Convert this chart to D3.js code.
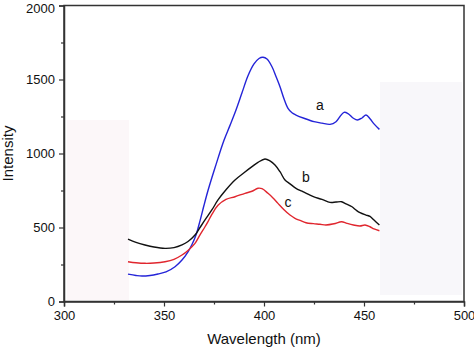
<!DOCTYPE html>
<html><head><meta charset="utf-8">
<script src="https://cdn.jsdelivr.net/npm/d3@7"></script>
<style>body{margin:0;background:#fff}svg{display:block}</style>
</head><body>
<script>
const xTicks = [300, 350, 400, 450, 500];
const yTicks = [0, 500, 1000, 1500, 2000];
const seriesNames = ["a", "b", "c"];
const seriesColors = ["#2424d8", "#111111", "#e0262e"];
const waveA = [332,336,339,343,347,351,355.5,359,362,364,366,368,370,372,374,376,378,380,383,386,389,392,395,397.5,399.5,401.5,404,406,408,410,412,414,416,420,425,429,433,436,438,440,442,444.7,446.7,449,451,453,455,457.7];
const valA  = [185,176,172,176,186,200,235,280,336,385,449,545,650,750,840,925,1010,1090,1190,1294,1410,1525,1605,1642,1650,1638,1586,1520,1451,1370,1305,1275,1260,1238,1215,1205,1197,1215,1250,1278,1270,1238,1226,1240,1260,1235,1200,1163];
const waveB = [332,336,340.5,345,350.5,355,359,362,365.5,368,370.5,374,377,381,385.5,390,394,397,400.5,403,405.5,408,410.5,413,416,419,422,424.7,429,433,436,438.8,441,444,446,448,451,453,455,457.7];
const valB  = [422,400,382,368,359,364,382,405,449,500,551,620,686,755,821,870,911,940,963,950,922,877,821,795,765,745,725,708,690,670,672,674,660,640,618,600,584,575,550,517];
const waveC = [332,336,340.5,345,350.5,355,359,362,365.5,368,370.5,372,374,377,381,385.5,390.5,394,397,399,402,404.5,407,410,413,415.5,418,421,424.7,428,431,435,438.8,441.5,444.7,448,450.5,453,455,457.7];
const valC  = [269,262,258,260,269,285,314,345,393,450,505,540,590,650,690,708,731,745,765,762,731,700,663,620,584,562,548,532,526,522,517,525,539,528,517,510,517,505,490,478];

const W = 474, H = 348;
const x = d3.scaleLinear().domain([300, 500]).range([64, 464]);
const y = d3.scaleLinear().domain([0, 2000]).range([301.5, 5.5]);

const svg = d3.select("body").append("svg").attr("width", W).attr("height", H)
  .style("font-family", "'Liberation Sans', Arial, sans-serif");

// faint background rectangles
svg.append("rect").attr("x", 67).attr("y", 120).attr("width", 62).attr("height", 180).attr("fill", "#fcf7f9");
svg.append("rect").attr("x", 380).attr("y", 82).attr("width", 82).attr("height", 213).attr("fill", "#f8f7fa");

// frame
svg.append("rect").attr("x", x(300)).attr("y", y(2000)).attr("width", x(500) - x(300)).attr("height", y(0) - y(2000))
  .attr("fill", "none").attr("stroke", "#333").attr("stroke-width", 1.5);

// axes
const xAxis = d3.axisBottom(x).tickValues(xTicks).tickSize(5).tickPadding(4).tickFormat(d3.format("d"));
svg.append("g").attr("transform", `translate(0,${y(0)})`).call(xAxis);
const xMinor = d3.axisBottom(x).tickValues([325, 375, 425, 475]).tickSize(3).tickFormat("");
svg.append("g").attr("transform", `translate(0,${y(0)})`).call(xMinor).call(g => g.select(".domain").remove());
const yAxis = d3.axisLeft(y).tickValues(yTicks).tickSize(5).tickPadding(4).tickFormat(d3.format("d"));
const gy = svg.append("g").attr("transform", `translate(${x(300)},0)`).call(yAxis);
gy.selectAll(".tick").filter(d => d === 2000).select("text").attr("dy", "0.55em");
const yMinor = d3.axisLeft(y).tickValues([250, 750, 1250, 1750]).tickSize(3).tickFormat("");
svg.append("g").attr("transform", `translate(${x(300)},0)`).call(yMinor).call(g => g.select(".domain").remove());

svg.selectAll(".domain").attr("stroke", "#333").attr("stroke-width", 1.5);
svg.selectAll(".tick line").attr("stroke", "#333").attr("stroke-width", 1.2);
svg.selectAll(".tick text").attr("font-size", 13).attr("fill", "#111").attr("font-family", "'Liberation Sans', Arial, sans-serif");

// titles
svg.append("text").attr("x", 264).attr("y", 344).attr("text-anchor", "middle").attr("font-size", 15).attr("fill", "#111").text("Wavelength (nm)");
svg.append("text").attr("transform", `translate(13,${(y(0) + y(2000)) / 2}) rotate(-90)`).attr("text-anchor", "middle").attr("font-size", 15).attr("fill", "#111").text("Intensity");

// lines
const line = d3.line().x(d => x(d[0])).y(d => y(d[1])).curve(d3.curveCatmullRom.alpha(0.5));
const all = [[waveA, valA], [waveB, valB], [waveC, valC]];
all.forEach((s, i) => {
  svg.append("path").datum(d3.zip(s[0], s[1])).attr("d", line)
    .attr("fill", "none").attr("stroke", seriesColors[i]).attr("stroke-width", 1.4);
});

// series labels
const labelPos = [[428, 1295], [421, 805], [412, 640]];
seriesNames.forEach((n, i) => {
  svg.append("text").attr("x", x(labelPos[i][0])).attr("y", y(labelPos[i][1])).attr("text-anchor", "middle")
    .attr("font-size", 14).attr("fill", "#111").text(n);
});
</script>
</body></html>
